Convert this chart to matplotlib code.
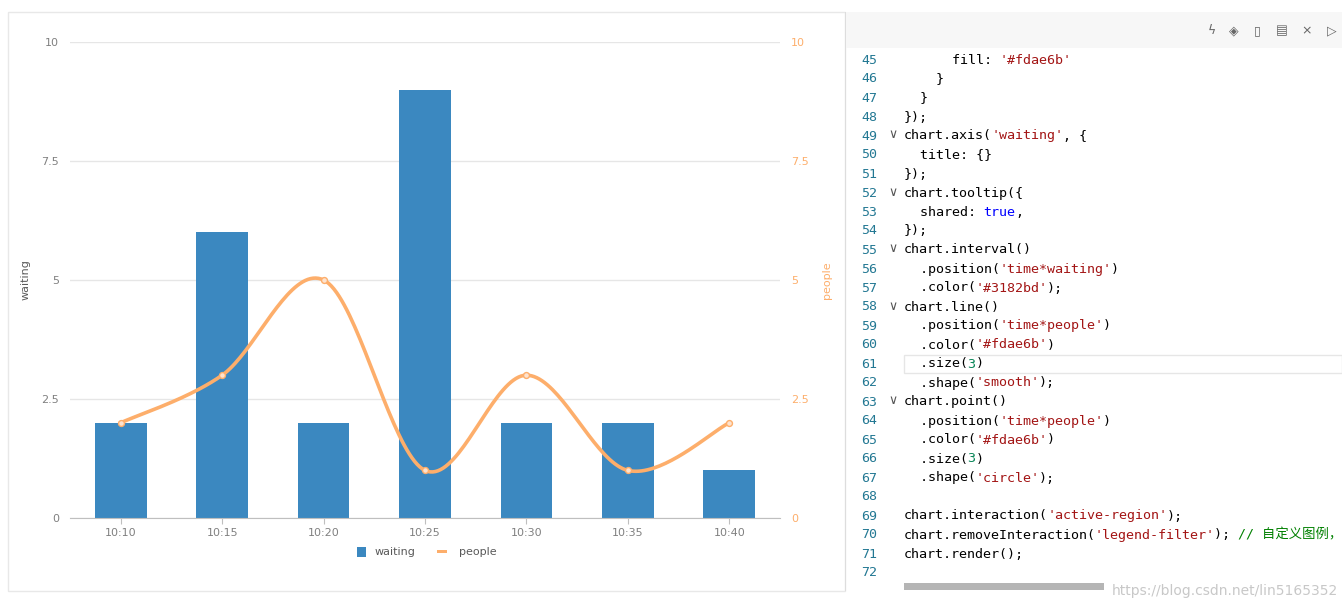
import numpy as np
import matplotlib.pyplot as plt
from matplotlib.patches import Rectangle

times = ['10:10', '10:15', '10:20', '10:25', '10:30', '10:35', '10:40']
waiting = [2, 6, 2, 9, 2, 2, 1]
people = [2, 3, 5, 1, 3, 1, 2]
yticks = [0, 2.5, 5, 7.5, 10]

BLUE = '#3b88c0'
ORANGE = '#fdae6b'
W, H = 1342, 610

fig = plt.figure(figsize=(W / 100, H / 100), dpi=100)
fig.patch.set_facecolor('white')


def px(x, y):
    return x / W, 1 - y / H


# panel frames
fig.add_artist(Rectangle(px(8, 591), 837 / W, 579 / H, transform=fig.transFigure,
                         fill=False, ec='#e8e8e8', lw=1))
fig.add_artist(Rectangle(px(845, 48), (W - 845) / W, 36 / H, transform=fig.transFigure,
                         fc='#f7f7f7', ec='none'))
fig.add_artist(Rectangle(px(845, 591), 1 / W, 579 / H, transform=fig.transFigure,
                         fc='#dddddd', ec='none'))


def catmull(xs, ys, n=40):
    # smooth curve through the points for the 'smooth' line shape
    xs = np.asarray(xs, float); ys = np.asarray(ys, float)
    P = np.column_stack([xs, ys])
    P = np.vstack([P[0], P, P[-1]])
    out = []
    for i in range(1, len(P) - 2):
        p0, p1, p2, p3 = P[i - 1], P[i], P[i + 1], P[i + 2]
        t = np.linspace(0, 1, n)[:, None]
        c = 0.5 * ((2 * p1) + (-p0 + p2) * t + (2 * p0 - 5 * p1 + 4 * p2 - p3) * t ** 2
                   + (-p0 + 3 * p1 - 3 * p2 + p3) * t ** 3)
        out.append(c)
    c = np.vstack(out)
    return c[:, 0], c[:, 1]


ax = fig.add_axes([70 / W, (H - 518) / H, 710 / W, 476 / H])
x = np.arange(len(times))
ax.bar(x, waiting, width=0.51, color=BLUE, zorder=2, label='waiting')
ax.set_xlim(-0.5, len(times) - 0.5)
ax.set_ylim(0, 10)
ax.set_yticks(yticks)
ax.set_yticklabels(['0', '2.5', '5', '7.5', '10'])
ax.grid(axis='y', color='#e6e6e6', lw=1, zorder=0)
ax.set_xticks(x)
ax.set_xticklabels(times)
for s in ['top', 'left', 'right']:
    ax.spines[s].set_visible(False)
ax.spines['bottom'].set_color('#bfbfbf')
ax.tick_params(axis='x', colors='#bfbfbf', labelcolor='#808080', labelsize=8, length=4)
ax.tick_params(axis='y', length=0, labelcolor='#808080', labelsize=8, pad=8)
ax.set_ylabel('waiting', fontsize=8, color='#595959')
ax.yaxis.set_label_coords(-0.055, 0.5)

ax2 = ax.twinx()
ax2.set_ylim(0, 10)
ax2.set_yticks(yticks)
ax2.set_yticklabels(['0', '2.5', '5', '7.5', '10'])
ax2.tick_params(axis='y', length=0, labelcolor=ORANGE, labelsize=8, pad=8)
for s in ax2.spines.values():
    s.set_visible(False)
ax2.set_ylabel('people', fontsize=8, color=ORANGE)
ax2.yaxis.set_label_coords(1.059, 0.5)
sx, sy = catmull(x, people)
ax2.plot(sx, sy, color=ORANGE, lw=2.6, zorder=3)
ax2.scatter(x, people, s=18, facecolor='#fde3cf', edgecolor=ORANGE, lw=1, zorder=4)

# legend
fig.add_artist(Rectangle(px(357, 557), 9 / W, 10 / H, transform=fig.transFigure, fc=BLUE, ec='none'))
fig.text(*px(375, 552), 'waiting', fontsize=8, color='#595959', va='center')
fig.add_artist(Rectangle(px(437, 553), 10 / W, 3 / H, transform=fig.transFigure, fc=ORANGE, ec='none'))
fig.text(*px(459, 552), 'people', fontsize=8, color='#595959', va='center')

# code editor panel
K, S, B, N, C = '#000000', '#a31515', '#0000ff', '#098658', '#008000'
code = [
    (45, [('      fill: ', K), ("'#fdae6b'", S)]),
    (46, [('    }', K)]),
    (47, [('  }', K)]),
    (48, [('});', K)]),
    (49, [('chart.axis(', K), ("'waiting'", S), (', {', K)]),
    (50, [('  title: {}', K)]),
    (51, [('});', K)]),
    (52, [('chart.tooltip({', K)]),
    (53, [('  shared: ', K), ('true', B), (',', K)]),
    (54, [('});', K)]),
    (55, [('chart.interval()', K)]),
    (56, [('  .position(', K), ("'time*waiting'", S), (')', K)]),
    (57, [('  .color(', K), ("'#3182bd'", S), (');', K)]),
    (58, [('chart.line()', K)]),
    (59, [('  .position(', K), ("'time*people'", S), (')', K)]),
    (60, [('  .color(', K), ("'#fdae6b'", S), (')', K)]),
    (61, [('  .size(', K), ('3', N), (')', K)]),
    (62, [('  .shape(', K), ("'smooth'", S), (');', K)]),
    (63, [('chart.point()', K)]),
    (64, [('  .position(', K), ("'time*people'", S), (')', K)]),
    (65, [('  .color(', K), ("'#fdae6b'", S), (')', K)]),
    (66, [('  .size(', K), ('3', N), (')', K)]),
    (67, [('  .shape(', K), ("'circle'", S), (');', K)]),
    (68, []),
    (69, [('chart.interaction(', K), ("'active-region'", S), (');', K)]),
    (70, [('chart.removeInteraction(', K), ("'legend-filter'", S), ('); ', K),
          ('// 自定义图例，', C)]),
    (71, [('chart.render();', K)]),
    (72, []),
]
folds = {49, 52, 55, 58, 63}
mono = ['DejaVu Sans Mono', 'Noto Sans CJK SC']
for i, (num, segs) in enumerate(code):
    y = 60 + i * 19
    fig.text(*px(877, y), str(num), fontsize=9.5, family=mono, color='#237893',
             ha='right', va='center')
    if num in folds:
        fig.text(*px(893, y - 1), '∨', fontsize=9, color='#555555', ha='center', va='center')
    col = 0
    for txt, c in segs:
        fig.text(*px(904 + col * 7.95, y), txt, fontsize=9.6, family=mono, color=c, va='center')
        col += sum(2 if ord(ch) > 0x2e80 else 1 for ch in txt)

# current line box, scrollbar, watermark, toolbar icons
fig.add_artist(Rectangle(px(904, 373), 438 / W, 18 / H, transform=fig.transFigure,
                         fill=False, ec='#e6e6e6', lw=1))
fig.add_artist(Rectangle(px(904, 590), 200 / W, 7 / H, transform=fig.transFigure,
                         fc='#b5b5b5', ec='none'))
fig.text(*px(1338, 591), 'https://blog.csdn.net/lin5165352', fontsize=10, color='#c8c8c8',
         ha='right', va='center')
for xi, ic in zip([1212, 1234, 1257, 1282, 1307, 1332], ['ϟ', '◈', '▯', '▤', '×', '▷']):
    fig.text(*px(xi, 31), ic, fontsize=9, color='#666666', ha='center', va='center')

fig.savefig('out.png', dpi=100)
